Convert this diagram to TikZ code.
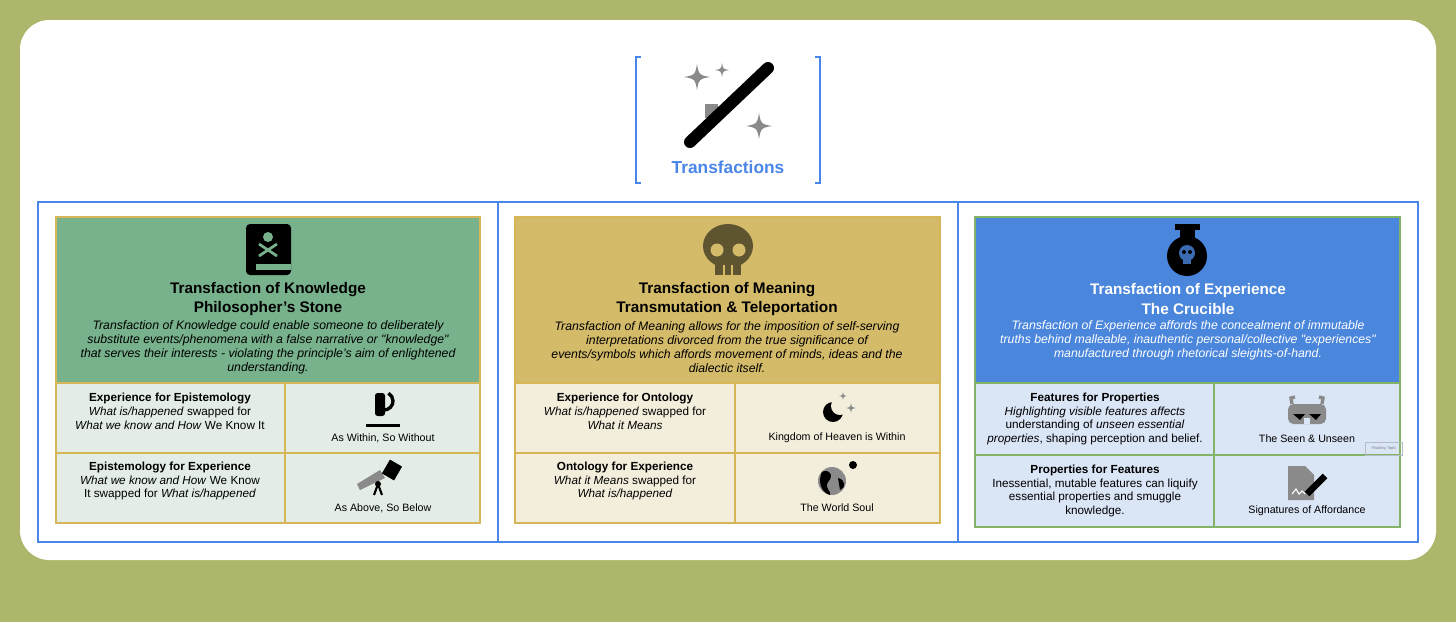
\documentclass[tikz,border=0pt]{standalone}
\usepackage{fontspec}
\setmainfont{Liberation Sans}[Ligatures=NoCommon]
\definecolor{olive}{HTML}{ADB66A}
\definecolor{blu}{HTML}{4A86E8}
\definecolor{g1}{HTML}{77B28C}\definecolor{g2}{HTML}{E3EDE5}
\definecolor{y1}{HTML}{D4BB6A}\definecolor{y2}{HTML}{F3EEDC}
\definecolor{b1}{HTML}{4A86DC}\definecolor{b2}{HTML}{DAE5F6}
\definecolor{gold}{HTML}{D6B656}\definecolor{grn}{HTML}{82B366}
\definecolor{ico}{HTML}{8A8A8A}
\newcommand\sparkle[4]{\fill[#4] (#1+#3,#2) .. controls (#1+0.15*#3,#2+0.15*#3) .. (#1,#2+#3) .. controls (#1-0.15*#3,#2+0.15*#3) .. (#1-#3,#2) .. controls (#1-0.15*#3,#2-0.15*#3) .. (#1,#2-#3) .. controls (#1+0.15*#3,#2-0.15*#3) .. cycle;}
\newcommand\qq{\textquotedbl}
\tikzset{
 ttl/.style={font=\fontsize{11.5}{14.5}\selectfont\bfseries,align=center},
 dsc/.style={font=\fontsize{9.2}{10.5}\selectfont\itshape,align=center},
 rowt/.style={font=\fontsize{8.8}{10.4}\selectfont,align=center},
 lbl/.style={font=\fontsize{8}{10}\selectfont},
 outer/.style={draw=blu,line width=0.8pt},
}
\begin{document}
\begin{tikzpicture}[x=0.75pt,y=-0.75pt]
\fill[olive] (0,0) rectangle (1456,622);
\useasboundingbox (0,0) rectangle (1456,622);
\fill[white,rounded corners=22pt] (20,20) rectangle (1436,560);
% brackets
\draw[blu,line width=1.2pt] (641,57)--(636,57)--(636,183)--(641,183);
\draw[blu,line width=1.2pt] (815,57)--(820,57)--(820,183)--(815,183);
% wand
\fill[ico] (705,104) rectangle (718,118);
\draw[line width=9pt,line cap=round] (690,142)--(768,68);
\sparkle{697}{77}{13}{ico}
\sparkle{722}{70}{7}{ico}
\sparkle{759}{126}{13}{ico}
\node[font=\fontsize{13}{15}\selectfont\bfseries,text=blu] (tt) at (728,167) {Transfactions};
% outer boxes
\draw[outer] (38,202) rectangle (498,542);
\draw[outer] (498,202) rectangle (958,542);
\draw[outer] (958,202) rectangle (1418,542);
% ===== card 1
\fill[g1] (56,217) rectangle (480,383);
\fill[g2] (56,383) rectangle (480,523);
\draw[gold,line width=0.8pt] (56,217) rectangle (480,523) (56,383)--(480,383) (56,453)--(480,453) (285,383)--(285,523);
\fill[black,rounded corners=3pt] (246,224) rectangle (291,275);
\fill[g1] (256,264) rectangle (291,270);
\fill[g1] (268,237) circle (5);
\draw[g1,line width=2pt] (259,244)--(277,256) (277,244)--(259,256);
\node[ttl] (h1) at (268,299) {Transfaction of Knowledge\\Philosopher's Stone};
\node[dsc] (d1) at (268,347) {Transfaction of Knowledge could enable someone to deliberately\\substitute events/phenomena with a false narrative or \qq knowledge\qq\\that serves their interests - violating the principle's aim of enlightened\\understanding.};
\node[rowt] (r11) at (170,411) {\textbf{Experience for Epistemology}\\\textit{What is/happened} swapped for\\\textit{What we know and How} We Know It};
\node[rowt] (r12) at (170,481) {\textbf{Epistemology for Experience}\\\textit{What we know and How} We Know\\It swapped for \textit{What is/happened}};
\fill[black,rounded corners=2pt] (375,393) rectangle (385,416);
\draw[line width=2.5pt] (384,410) arc (90:-60:9);
\fill[black] (366,424) rectangle (400,427);
\node[lbl] (l11) at (383,438) {As Within, So Without};
\fill[ico] (357,484)--(380,470)--(385,478)--(360,490)--cycle;
\fill[black,rotate around={-30:(392,470)}] (385,462) rectangle (399,478);
\draw[line width=1.6pt] (374,495)--(378,484)--(382,495);
\fill[black] (378,484) circle (3);
\node[lbl] (l12) at (383,508) {As Above, So Below};
% ===== card 2
\fill[y1] (515,217) rectangle (940,383);
\fill[y2] (515,383) rectangle (940,523);
\draw[gold,line width=0.8pt] (515,217) rectangle (940,523) (515,383)--(940,383) (515,453)--(940,453) (735,383)--(735,523);
\fill[black!55!y1] (728,246) ellipse (25 and 22);
\fill[black!55!y1] (715,256) rectangle (741,275);
\fill[y1] (717,250) circle (6.5) (739,250) circle (6.5);
\draw[y1,line width=1.5pt] (724,265)--(724,275) (732,265)--(732,275);
\node[ttl] (h2) at (727,299) {Transfaction of Meaning\\Transmutation \& Teleportation};
\node[dsc] (d2) at (727,347) {Transfaction of Meaning allows for the imposition of self-serving\\interpretations divorced from the true significance of\\events/symbols which affords movement of minds, ideas and the\\dialectic itself.};
\node[rowt] (r21) at (625,411) {\textbf{Experience for Ontology}\\\textit{What is/happened} swapped for\\\textit{What it Means}};
\node[rowt] (r22) at (625,481) {\textbf{Ontology for Experience}\\\textit{What it Means} swapped for\\\textit{What is/happened}};
\fill[black] (833,412) circle (10);
\fill[y2] (840,406) circle (9);
\sparkle{843}{396}{4}{ico}
\sparkle{851}{408}{5}{ico}
\node[lbl] (l21) at (837,438) {Kingdom of Heaven is Within};
\fill[ico] (832,481) circle (14);
\fill[black] (822,472) .. controls (830,468) and (834,476) .. (828,482) .. controls (824,488) and (832,492) .. (830,495) .. controls (820,492) and (818,480) .. (822,472) -- cycle;
\fill[black] (838,478) .. controls (846,480) and (846,488) .. (840,490) -- cycle;
\fill[black] (853,465) circle (4);
\node[lbl] (l22) at (837,508) {The World Soul};
% ===== card 3
\fill[b1] (975,217) rectangle (1400,383);
\fill[b2] (975,383) rectangle (1400,527);
\draw[grn,line width=0.8pt] (975,217) rectangle (1400,527) (975,383)--(1400,383) (975,455)--(1400,455) (1214,383)--(1214,527);
\fill[black] (1175,224) rectangle (1200,230);
\fill[black] (1180,230) rectangle (1195,238);
\fill[black] (1187,256) circle (20);
\fill[b1!80!black] (1187,253) circle (8);
\fill[b1!80!black] (1183,256) rectangle (1191,264);
\fill[black] (1184,252) circle (2) (1190,252) circle (2);
\node[ttl,text=white] (h3) at (1188,299) {Transfaction of Experience\\The Crucible};
\node[dsc,text=white] (d3) at (1188,340) {Transfaction of Experience affords the concealment of immutable\\truths behind malleable, inauthentic personal/collective \qq experiences\qq\\manufactured through rhetorical sleights-of-hand.};
\node[rowt] (r31) at (1095,419) {\textbf{Features for Properties}\\\textit{Highlighting visible features affects}\\understanding of \textit{unseen essential}\\\textit{properties}, shaping perception and belief.};
\node[rowt] (r32) at (1095,491) {\textbf{Properties for Features}\\Inessential, mutable features can liquify\\essential properties and smuggle\\knowledge.};
\draw[ico,line width=2.5pt] (1292,404)--(1291,398)--(1295,397) (1322,404)--(1323,398)--(1319,397);
\fill[ico,rounded corners=4pt] (1288,404) rectangle (1326,424);
\fill[black] (1293,414) -- (1305,414) -- (1300,420) -- cycle;
\fill[black] (1309,414) -- (1321,414) -- (1316,420) -- cycle;
\fill[b2] (1304,418) rectangle (1310,424);
\node[lbl] (l31) at (1307,439) {The Seen \& Unseen};
\draw[b2!60!gray,line width=0.3pt] (1365,442) rectangle (1402,455);
\node[font=\fontsize{3}{3}\selectfont,text=gray] (ft) at (1384,448) {Floating Topic};
\fill[ico] (1288,466)--(1305,466)--(1314,475)--(1314,500)--(1288,500)--cycle;
\draw[white,line width=0.8pt] (1292,494)--(1296,489)--(1299,494)--(1302,491)--(1305,494);
\draw[black,line width=5pt] (1307,494)--(1325,476);
\node[lbl] (l32) at (1307,511) {Signatures of Affordance};
\end{tikzpicture}
\end{document}
